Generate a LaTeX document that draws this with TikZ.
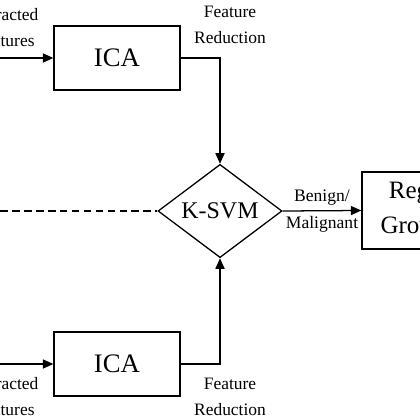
\documentclass[tikz,border=0pt]{standalone}
\usepackage{fontspec}
\setmainfont{Liberation Serif}
\usetikzlibrary{positioning,shapes.geometric,arrows.meta}

\begin{document}
\begin{tikzpicture}[
  x=0.025cm, y=-0.025cm,
  line width=0.9pt,
  >={Triangle[length=7.5pt,width=6.5pt]},
  block/.style={draw,minimum width=3.15cm,minimum height=1.6cm,inner sep=0pt},
  decide/.style={draw,diamond,minimum width=3.1cm,minimum height=2.25cm,inner sep=0pt},
  lbl/.style={align=center,font=\fontsize{12.4}{18.5}\selectfont}
  ]

   \useasboundingbox (0,0) rectangle (420,420);

   \node (ica1) [block,font=\fontsize{19}{19}\selectfont] at (117,58) {ICA} ;
   \node (ica2) [block,font=\fontsize{19}{19}\selectfont] at (117,364) {ICA} ;
   \node (ksvm) [decide,font=\fontsize{17}{17}\selectfont] at (220,211) {K-SVM} ;
   \node (reg) [block,align=center,minimum height=1.93cm,font=\fontsize{17.8}{25}\selectfont] at (425,210.5) {Region\\Growing} ;

   \coordinate (in1) at (0,58) ;
   \coordinate (in2) at (0,364) ;
   \coordinate (in3) at (0,211) ;

   \node (ext1) [lbl] at (5,28) {Extracted\\Features} ;
   \node (ext2) [lbl] at (5,397) {Extracted\\Features} ;
   \node (red1) [lbl] at (230,25) {Feature\\Reduction} ;
   \node (red2) [lbl] at (230,397) {Feature\\Reduction} ;

   \draw [->] (in1) -- (ica1.west);
   \draw [->] (in2) -- (ica2.west);
   \draw [dash pattern=on 5.5pt off 3pt] (in3) -- (ksvm.west);
   \draw [->] (ica1.east) -| (ksvm.north);
   \draw [->] (ica2.east) -| (ksvm.south);
   \draw [->] (ksvm.east) -- node[above,font=\fontsize{12.5}{12.5}\selectfont] {Benign/}
      node[below,font=\fontsize{12.5}{12.5}\selectfont] {Malignant} (reg.west);

\end{tikzpicture}
\end{document}
